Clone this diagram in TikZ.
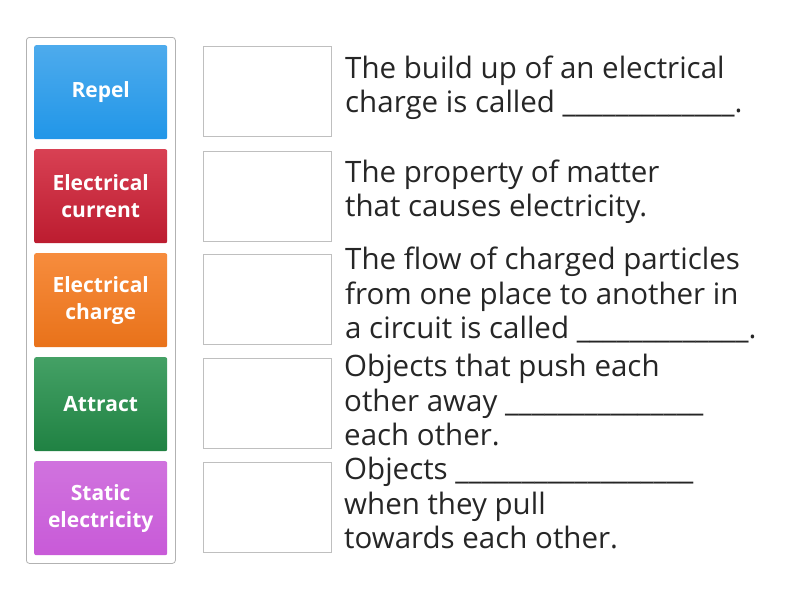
\documentclass[tikz,border=0pt]{standalone}
\usepackage{fontspec}
\setmainfont{Open Sans}
\begin{document}
\begin{tikzpicture}[x=1pt,y=-1pt,
  tile/.style={rounded corners=2pt, minimum width=133pt, minimum height=94pt, anchor=north west, text=white, font=\bfseries\fontsize{21}{27}\selectfont, align=center, inner sep=0pt},
  slot/.style={draw=black!25, line width=0.8pt, minimum width=128pt, minimum height=90pt, anchor=north west, inner sep=0pt},
  clue/.style={anchor=west, align=left, inner sep=0pt, font=\fontsize{29.5}{34.5}\selectfont, text=black!85}]
\useasboundingbox (0,0) rectangle (800,600);
\fill[white] (0,0) rectangle (800,600);
\node[draw=black!30, line width=0.8pt, rounded corners=3pt, minimum width=149pt, minimum height=526pt, anchor=north west, inner sep=0pt] (panel) at (26,37) {};
\definecolor{cblue}{HTML}{2196E8}
\definecolor{cred}{HTML}{D11F35}
\definecolor{corange}{HTML}{F5781B}
\definecolor{cgreen}{HTML}{23904A}
\definecolor{cpurple}{HTML}{C85AD8}
\node[tile, top color=cblue!80!white, bottom color=cblue] (t1) at (34,45) {Repel};
\node[tile, top color=cred!85!white, bottom color=cred!90!black] (t2) at (34,149) {Electrical\\current};
\node[tile, top color=corange!85!white, bottom color=corange!95!black] (t3) at (34,253) {Electrical\\charge};
\node[tile, top color=cgreen!85!white, bottom color=cgreen!90!black] (t4) at (34,357) {Attract};
\node[tile, top color=cpurple!85!white, bottom color=cpurple] (t5) at (34,461) {Static\\electricity};
\node[slot] (s1) at (203,46) {};
\node[slot] (s2) at (203,151) {};
\node[slot] (s3) at (203,254) {};
\node[slot] (s4) at (203,358) {};
\node[slot] (s5) at (203,462) {};
\node[clue] (c1) at (345,88) {The build up of an electrical\\charge is called \_\_\_\_\_\_\_\_\_\_\_\_\_.};
\node[clue] (c2) at (345,192) {The property of matter\\that causes electricity.};
\node[clue] (c3) at (345,295) {The flow of charged particles\\from one place to another in\\a circuit is called \_\_\_\_\_\_\_\_\_\_\_\_\_.};
\node[clue] (c4) at (344,400) {Objects that push each\\other away \_\_\_\_\_\_\_\_\_\_\_\_\_\_\_\\each other.};
\node[clue] (c5) at (344,503) {Objects \_\_\_\_\_\_\_\_\_\_\_\_\_\_\_\_\_\_\\when they pull\\towards each other.};
\end{tikzpicture}
\end{document}
